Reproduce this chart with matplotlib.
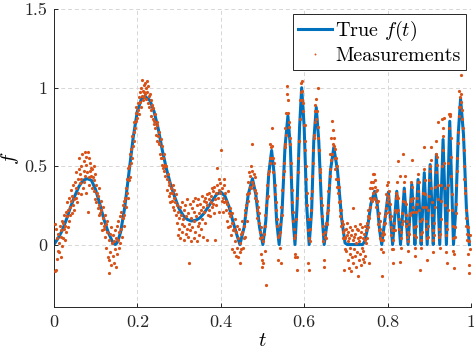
import numpy as np
import matplotlib
matplotlib.use('Agg')
import matplotlib.pyplot as plt

plt.rcParams['font.family'] = 'serif'
plt.rcParams['font.serif'] = ['cmr10']
plt.rcParams['mathtext.fontset'] = 'cm'
plt.rcParams['axes.unicode_minus'] = False

# true signal (t, f)
curve_t = [0.000, 0.010, 0.020, 0.030, 0.040, 0.050, 0.060, 0.070, 0.080, 0.090,
           0.100, 0.110, 0.120, 0.130, 0.140, 0.144, 0.147, 0.151, 0.155, 0.160, 0.170, 0.180,
           0.190, 0.200, 0.210, 0.218, 0.230, 0.240, 0.250, 0.260, 0.270, 0.280,
           0.290, 0.300, 0.310, 0.320, 0.330, 0.340, 0.350, 0.360, 0.370, 0.380,
           0.390, 0.400, 0.410, 0.420, 0.430, 0.440, 0.446,
           0.456, 0.466, 0.476, 0.484, 0.493, 0.501,
           0.508, 0.515, 0.522, 0.528, 0.534, 0.540,
           0.547, 0.554, 0.561, 0.567, 0.572, 0.578,
           0.583, 0.589, 0.594, 0.600, 0.606, 0.612,
           0.618, 0.623, 0.629, 0.635, 0.642, 0.648,
           0.656, 0.663, 0.671, 0.680, 0.690, 0.698, 0.703,
           0.740, 0.745, 0.751, 0.760, 0.769, 0.775, 0.781, 0.786,
           0.794, 0.802, 0.807, 0.812,
           0.817, 0.822, 0.8265, 0.831,
           0.8355, 0.840, 0.8445, 0.849,
           0.8535, 0.858, 0.862, 0.8655,
           0.869, 0.873, 0.877, 0.8805,
           0.884, 0.888, 0.8915, 0.895,
           0.8985, 0.902, 0.906, 0.9095,
           0.913, 0.917, 0.921, 0.925,
           0.929, 0.933, 0.937, 0.941,
           0.945, 0.949, 0.9535, 0.958,
           0.9637, 0.9693, 0.975, 0.982, 0.989, 0.996]
curve_f = [0.00, 0.04, 0.09, 0.16, 0.24, 0.31, 0.37, 0.41, 0.42, 0.41,
           0.35, 0.26, 0.16, 0.08, 0.02, 0.005, 0.00, 0.01, 0.035, 0.08, 0.24, 0.46,
           0.68, 0.85, 0.93, 0.945, 0.92, 0.85, 0.74, 0.60, 0.48, 0.38,
           0.30, 0.23, 0.185, 0.16, 0.15, 0.155, 0.17, 0.20, 0.24, 0.28,
           0.32, 0.335, 0.31, 0.24, 0.14, 0.05, 0.00,
           0.11, 0.32, 0.42, 0.32, 0.11, 0.00,
           0.15, 0.45, 0.60, 0.45, 0.15, 0.00,
           0.21, 0.62, 0.82, 0.62, 0.21, 0.00,
           0.25, 0.75, 1.00, 0.75, 0.25, 0.00,
           0.22, 0.66, 0.875, 0.66, 0.22, 0.00,
           0.16, 0.47, 0.62, 0.47, 0.16, 0.01, 0.00,
           0.00, 0.02, 0.09, 0.26, 0.34, 0.26, 0.09, 0.00,
           0.17, 0.335, 0.17, 0.00,
           0.17, 0.34, 0.17, 0.00,
           0.18, 0.36, 0.18, 0.00,
           0.19, 0.385, 0.19, 0.00,
           0.21, 0.415, 0.21, 0.00,
           0.23, 0.458, 0.23, 0.00,
           0.255, 0.51, 0.255, 0.00,
           0.29, 0.575, 0.29, 0.00,
           0.335, 0.67, 0.335, 0.00,
           0.39, 0.786, 0.39, 0.00,
           0.23, 0.70, 0.93, 0.70, 0.23, 0.00]

meas = np.array([
    (0.002, 0.13), (0.003, -0.17), (0.005, 0.10), (0.006, -0.16), (0.007, 0.04), (0.008, -0.09), (0.010, 0.07), (0.011, -0.04),
    (0.012, 0.01), (0.013, -0.05), (0.015, 0.12), (0.016, -0.08), (0.017, 0.05), (0.018, 0.09), (0.019, -0.01), (0.020, 0.15),
    (0.021, 0.04), (0.023, 0.14), (0.024, 0.10), (0.025, 0.19), (0.026, 0.03), (0.027, 0.12), (0.028, 0.21), (0.029, 0.08),
    (0.031, 0.18), (0.032, 0.27), (0.033, 0.11), (0.035, 0.22), (0.036, 0.15), (0.037, 0.30), (0.038, 0.19), (0.039, 0.24),
    (0.041, 0.28), (0.042, 0.35), (0.043, 0.20), (0.044, 0.31), (0.046, 0.25), (0.047, 0.38), (0.048, 0.29), (0.049, 0.22),
    (0.051, 0.40), (0.052, 0.30), (0.053, 0.46), (0.054, 0.36), (0.056, 0.27), (0.057, 0.42), (0.058, 0.33), (0.059, 0.48),
    (0.061, 0.55), (0.062, 0.39), (0.063, 0.45), (0.064, 0.32), (0.065, 0.50), (0.066, 0.42), (0.068, 0.58), (0.069, 0.36),
    (0.071, 0.47), (0.072, 0.53), (0.073, 0.40), (0.074, 0.59), (0.075, 0.44), (0.076, 0.51), (0.077, 0.33), (0.078, 0.56), (0.079, 0.46),
    (0.081, 0.59), (0.082, 0.21), (0.083, 0.43), (0.084, 0.55), (0.085, 0.38), (0.086, 0.47), (0.087, 0.52), (0.088, 0.49), (0.089, 0.44),
    (0.091, 0.48), (0.092, 0.36), (0.093, 0.43), (0.095, 0.50), (0.096, 0.34), (0.097, 0.41), (0.098, 0.29), (0.099, 0.45),
    (0.101, 0.38), (0.102, 0.27), (0.103, 0.33), (0.105, 0.23), (0.106, 0.31), (0.107, 0.36), (0.108, 0.19), (0.109, 0.25),
    (0.111, 0.20), (0.112, 0.28), (0.113, 0.14), (0.114, 0.22), (0.116, 0.09), (0.117, 0.17), (0.118, 0.24), (0.119, 0.12),
    (0.121, 0.10), (0.122, 0.19), (0.123, 0.05), (0.125, 0.13), (0.126, -0.02), (0.127, 0.08), (0.128, 0.15), (0.129, -0.08),
    (0.131, -0.18), (0.132, 0.03), (0.133, -0.10), (0.134, 0.07), (0.135, -0.05), (0.136, 0.11), (0.137, -0.13), (0.139, 0.01),
    (0.141, -0.07), (0.142, 0.06), (0.143, -0.12), (0.144, 0.02), (0.146, 0.09), (0.147, -0.03), (0.148, -0.14), (0.149, 0.04),
    (0.151, 0.12), (0.152, -0.06), (0.153, 0.03), (0.154, 0.15), (0.156, -0.02), (0.157, 0.08), (0.158, 0.18), (0.159, 0.01),
    (0.161, 0.10), (0.162, 0.21), (0.163, 0.05), (0.165, 0.17), (0.166, 0.25), (0.167, 0.12), (0.168, 0.28), (0.169, 0.19),
    (0.171, 0.30), (0.172, 0.24), (0.173, 0.36), (0.175, 0.33), (0.176, 0.42), (0.177, 0.30), (0.178, 0.49), (0.179, 0.41),
    (0.181, 0.50), (0.182, 0.43), (0.183, 0.58), (0.184, 0.52), (0.186, 0.61), (0.187, 0.55), (0.188, 0.69), (0.189, 0.63),
    (0.191, 0.72), (0.192, 0.66), (0.193, 0.78), (0.195, 0.74), (0.196, 0.84), (0.197, 0.79), (0.198, 0.88), (0.199, 0.81),
    (0.201, 0.90), (0.202, 0.86), (0.203, 0.94), (0.205, 0.83), (0.206, 0.97), (0.207, 0.91), (0.208, 0.88), (0.209, 1.00),
    (0.211, 0.95), (0.212, 1.05), (0.213, 0.92), (0.214, 0.98), (0.215, 1.02), (0.216, 0.94), (0.217, 0.97), (0.218, 1.03), (0.219, 0.96),
    (0.221, 1.00), (0.222, 0.93), (0.223, 1.04), (0.224, 0.97), (0.225, 0.90), (0.226, 1.01), (0.227, 0.95), (0.229, 0.88),
    (0.231, 0.96), (0.232, 0.86), (0.233, 0.92), (0.234, 0.82), (0.236, 0.89), (0.237, 0.80), (0.238, 0.87), (0.239, 0.77),
    (0.241, 0.79), (0.242, 0.83), (0.243, 0.74), (0.245, 0.70), (0.246, 0.78), (0.247, 0.66), (0.248, 0.76), (0.249, 0.69),
    (0.251, 0.65), (0.252, 0.72), (0.253, 0.64), (0.255, 0.58), (0.256, 0.67), (0.257, 0.55), (0.258, 0.63), (0.259, 0.51),
    (0.261, 0.55), (0.262, 0.49), (0.263, 0.58), (0.264, 0.50), (0.265, 0.47), (0.266, 0.51), (0.267, 0.44), (0.269, 0.50),
    (0.271, 0.42), (0.272, 0.35), (0.273, 0.45), (0.275, 0.38), (0.276, 0.31), (0.277, 0.40), (0.278, 0.33), (0.279, 0.27),
    (0.281, 0.36), (0.282, 0.28), (0.283, 0.33), (0.285, 0.24), (0.286, 0.38), (0.287, 0.30), (0.288, 0.22), (0.289, 0.35),
    (0.291, 0.27), (0.292, 0.19), (0.293, 0.32), (0.295, 0.14), (0.296, 0.25), (0.297, 0.06), (0.298, 0.21), (0.299, 0.17),
    (0.301, 0.10), (0.302, 0.24), (0.303, 0.04), (0.305, 0.19), (0.306, 0.13), (0.307, 0.27), (0.308, 0.08), (0.309, 0.16),
    (0.311, 0.22), (0.312, 0.03), (0.313, 0.12), (0.315, 0.25), (0.316, 0.07), (0.317, 0.18), (0.318, 0.29), (0.319, 0.10),
    (0.321, 0.05), (0.322, 0.20), (0.323, 0.13), (0.325, -0.12), (0.326, 0.26), (0.327, 0.09), (0.328, 0.02), (0.329, 0.17),
    (0.331, 0.23), (0.332, 0.11), (0.333, 0.28), (0.335, 0.04), (0.336, 0.15), (0.337, 0.21), (0.338, 0.08), (0.339, 0.30),
    (0.341, 0.18), (0.342, 0.02), (0.343, 0.25), (0.345, 0.12), (0.346, 0.29), (0.347, 0.06), (0.348, 0.20), (0.349, 0.14),
    (0.351, 0.26), (0.352, 0.10), (0.353, 0.22), (0.355, 0.31), (0.356, 0.16), (0.357, 0.24), (0.358, 0.05), (0.359, 0.28),
    (0.361, 0.21), (0.362, 0.30), (0.363, 0.14), (0.365, 0.27), (0.366, 0.03), (0.367, 0.25), (0.368, 0.32), (0.369, 0.19),
    (0.371, 0.29), (0.372, 0.22), (0.373, 0.33), (0.375, 0.18), (0.376, 0.27), (0.377, 0.31), (0.378, 0.24), (0.379, 0.36),
    (0.381, 0.26), (0.382, 0.34), (0.383, 0.20), (0.385, 0.37), (0.386, 0.29), (0.387, 0.03), (0.388, 0.33), (0.389, 0.25),
    (0.391, 0.38), (0.392, 0.49), (0.393, 0.30), (0.395, 0.35), (0.396, 0.42), (0.397, 0.21), (0.398, 0.33), (0.399, 0.39),
    (0.401, 0.60), (0.402, 0.28), (0.403, 0.36), (0.405, 0.21), (0.406, 0.30), (0.407, 0.38), (0.408, 0.42), (0.409, 0.27),
    (0.411, 0.33), (0.412, 0.22), (0.413, 0.28), (0.415, 0.15), (0.416, 0.26), (0.417, 0.34), (0.418, 0.11), (0.419, 0.20),
    (0.421, 0.23), (0.422, 0.12), (0.423, 0.18), (0.425, 0.06), (0.426, 0.20), (0.427, -0.03), (0.428, 0.14), (0.429, 0.09),
    (0.431, 0.10), (0.432, -0.05), (0.433, 0.16), (0.435, 0.02), (0.436, 0.08), (0.437, -0.07), (0.438, 0.12), (0.439, -0.02),
    (0.441, 0.04), (0.442, -0.08), (0.443, 0.10), (0.445, -0.12), (0.446, 0.01), (0.447, -0.05), (0.448, 0.07), (0.449, -0.03),
    (0.451, 0.08), (0.452, 0.15), (0.453, -0.02), (0.455, 0.12), (0.456, 0.04), (0.457, 0.19), (0.458, 0.05), (0.459, 0.22),
    (0.461, 0.25), (0.462, 0.15), (0.463, 0.32), (0.465, 0.28), (0.466, 0.40), (0.467, 0.33), (0.468, 0.46), (0.469, 0.37),
    (0.471, 0.44), (0.472, 0.36), (0.473, 0.50), (0.474, 0.64), (0.475, 0.40), (0.476, 0.47), (0.477, 0.38), (0.479, 0.45),
    (0.481, 0.35), (0.482, 0.43), (0.483, 0.30), (0.485, 0.33), (0.486, 0.22), (0.487, 0.28), (0.488, 0.17), (0.489, 0.24),
    (0.491, 0.14), (0.492, 0.20), (0.493, 0.08), (0.495, 0.04), (0.496, 0.11), (0.497, -0.06), (0.498, 0.05), (0.499, -0.10),
    (0.500, -0.14), (0.501, 0.02), (0.502, -0.12), (0.503, 0.07), (0.505, 0.12), (0.506, -0.04), (0.507, 0.19), (0.508, -0.26), (0.509, 0.25),
    (0.511, 0.30), (0.512, 0.38), (0.513, 0.31), (0.514, 0.45), (0.516, 0.47), (0.517, 0.55), (0.518, 0.52), (0.519, 0.64),
    (0.521, 0.62), (0.522, 0.74), (0.523, 0.55), (0.524, 0.63), (0.525, 0.55), (0.526, 0.46), (0.527, 0.52), (0.529, 0.38),
    (0.531, 0.32), (0.532, 0.22), (0.533, 0.27), (0.535, 0.12), (0.536, 0.16), (0.537, 0.05), (0.538, -0.10), (0.539, 0.06),
    (0.541, -0.02), (0.542, 0.08), (0.543, 0.13), (0.544, -0.12), (0.545, 0.24), (0.546, 0.19), (0.547, 0.35), (0.549, 0.43),
    (0.551, 0.52), (0.552, 0.47), (0.553, 0.64), (0.554, 0.62), (0.555, 0.74), (0.556, 0.70), (0.557, 0.84), (0.558, 0.96), (0.559, 1.01),
    (0.561, 0.84), (0.562, 0.92), (0.563, 0.75), (0.564, 0.78), (0.565, 0.64), (0.566, 0.68), (0.568, 0.52), (0.569, 0.43),
    (0.571, 0.35), (0.572, 0.27), (0.573, 0.21), (0.574, 0.15), (0.575, 0.10), (0.576, 0.04), (0.577, -0.06), (0.578, -0.08), (0.579, 0.06),
    (0.581, 0.16), (0.582, -0.08), (0.583, 0.30), (0.584, -0.16), (0.585, 0.46), (0.586, 0.55), (0.587, 0.66), (0.588, 0.66), (0.589, 0.80),
    (0.591, 0.92), (0.592, 1.03), (0.593, 0.97), (0.594, 1.04), (0.595, 0.92), (0.596, 0.98), (0.597, 0.85), (0.598, 0.90), (0.599, 0.76),
    (0.601, 0.76), (0.602, 0.66), (0.603, 0.60), (0.604, 0.50), (0.605, 0.42), (0.606, 0.33), (0.607, 0.25), (0.608, 0.16), (0.609, 0.09),
    (0.610, -0.12), (0.611, 0.04), (0.612, -0.16), (0.613, 0.02), (0.614, 0.10), (0.615, 0.16), (0.616, 0.22), (0.617, 0.30), (0.618, 0.34), (0.619, 0.44),
    (0.621, 0.52), (0.622, 0.60), (0.623, 0.68), (0.624, 0.70), (0.625, 0.78), (0.626, 0.89), (0.627, 0.85), (0.628, 0.93), (0.629, 0.80),
    (0.631, 0.85), (0.632, 0.75), (0.633, 1.00), (0.634, 0.68), (0.635, 0.60), (0.636, 0.60), (0.637, 0.48), (0.638, 0.41), (0.639, 0.46),
    (0.641, 0.30), (0.642, 0.25), (0.643, 0.18), (0.644, 0.12), (0.645, 0.07), (0.646, 0.02), (0.647, -0.10), (0.648, -0.14), (0.649, 0.05),
    (0.651, 0.08), (0.652, 0.04), (0.653, 0.14), (0.654, 0.20), (0.655, 0.13), (0.656, 0.25), (0.657, 0.22), (0.658, 0.34), (0.659, 0.38),
    (0.661, 0.48), (0.662, 0.44), (0.663, 0.58), (0.664, 0.54), (0.665, 0.68), (0.666, 0.58), (0.667, 0.79), (0.668, 0.64), (0.669, 0.73),
    (0.671, 0.63), (0.672, 0.68), (0.673, 0.55), (0.674, 0.61), (0.675, 0.48), (0.676, 0.55), (0.677, 0.42), (0.678, 0.50), (0.679, 0.37),
    (0.681, 0.42), (0.682, 0.33), (0.683, 0.37), (0.684, 0.27), (0.685, 0.22), (0.686, 0.28), (0.687, 0.18), (0.688, 0.22), (0.689, 0.12),
    (0.691, 0.15), (0.692, 0.08), (0.693, 0.13), (0.694, 0.04), (0.695, 0.09), (0.696, -0.16), (0.697, 0.05), (0.698, -0.03), (0.699, 0.04),
    (0.700, 0.10), (0.701, -0.04), (0.702, 0.14), (0.703, 0.06), (0.704, -0.10), (0.705, 0.02), (0.706, 0.08), (0.707, -0.15), (0.708, 0.04), (0.709, -0.06),
    (0.710, 0.11), (0.711, -0.02), (0.712, 0.06), (0.713, -0.17), (0.714, 0.09), (0.715, -0.08), (0.716, 0.03), (0.717, 0.235), (0.718, -0.12), (0.719, 0.05),
    (0.720, -0.03), (0.721, 0.12), (0.722, -0.07), (0.723, 0.07), (0.724, -0.14), (0.725, 0.01), (0.726, 0.10), (0.727, -0.05), (0.728, 0.04), (0.729, -0.20),
    (0.730, 0.09), (0.731, -0.10), (0.732, 0.02), (0.733, 0.13), (0.734, -0.06), (0.735, 0.05), (0.736, -0.13), (0.737, 0.08), (0.738, -0.02), (0.739, 0.11),
    (0.740, -0.09), (0.741, 0.04), (0.742, -0.04), (0.743, 0.07), (0.744, -0.11), (0.745, 0.03), (0.746, 0.12), (0.747, -0.07), (0.748, 0.09), (0.749, 0.01),
    (0.750, 0.14), (0.751, 0.04), (0.752, 0.18), (0.753, 0.11), (0.754, 0.22), (0.755, -0.12), (0.756, 0.17), (0.757, 0.30), (0.758, 0.24), (0.759, 0.36),
    (0.760, 0.29), (0.761, 0.40), (0.762, 0.28), (0.763, 0.36), (0.764, 0.45), (0.765, 0.33), (0.766, 0.40), (0.767, 0.30), (0.768, 0.45), (0.769, 0.37),
    (0.770, 0.29), (0.771, 0.41), (0.772, 0.34), (0.773, 0.24), (0.774, 0.35), (0.775, 0.27), (0.776, 0.18), (0.777, 0.28), (0.778, 0.13), (0.779, 0.20),
    (0.780, 0.09), (0.781, 0.15), (0.782, 0.04), (0.783, 0.10), (0.784, -0.03), (0.785, 0.03), (0.786, -0.20), (0.787, 0.06),
    (0.788, 0.03), (0.789, -0.05), (0.790, 0.08), (0.791, 0.13), (0.792, 0.07), (0.793, 0.18), (0.794, 0.14), (0.795, 0.23), (0.796, 0.20), (0.797, 0.32), (0.798, 0.27), (0.799, 0.38),
    (0.800, 0.31), (0.801, 0.40), (0.802, 0.29), (0.803, 0.34), (0.804, 0.21), (0.805, 0.26), (0.806, 0.16), (0.807, 0.11), (0.808, 0.18), (0.809, 0.06), (0.810, 0.09), (0.811, -0.03), (0.812, -0.12), (0.813, 0.03),
    (0.814, -0.03), (0.815, 0.09), (0.816, 0.14), (0.817, 0.09), (0.818, 0.22), (0.819, 0.21), (0.820, 0.33), (0.821, 0.30), (0.822, 0.40), (0.823, 0.31), (0.824, 0.22), (0.825, 0.30), (0.826, 0.53), (0.827, 0.16), (0.828, 0.10), (0.829, 0.44), (0.830, -0.11), (0.831, 0.04),
    (0.832, -0.02), (0.833, 0.08), (0.834, 0.13), (0.835, 0.20), (0.836, 0.15), (0.837, 0.28), (0.838, 0.58), (0.839, 0.40), (0.840, 0.34), (0.841, 0.44), (0.842, 0.27), (0.843, 0.19), (0.844, 0.26), (0.845, 0.12), (0.846, 0.15), (0.847, 0.05), (0.848, 0.08), (0.849, -0.04),
    (0.850, 0.02), (0.851, 0.07), (0.852, 0.13), (0.853, 0.20), (0.854, 0.19), (0.855, 0.29), (0.856, 0.28), (0.857, 0.40), (0.858, 0.54), (0.859, 0.37), (0.860, 0.30), (0.861, 0.21), (0.862, 0.24), (0.863, 0.11), (0.864, 0.06), (0.865, -0.02), (0.866, -0.07),
    (0.867, 0.05), (0.868, 0.12), (0.869, 0.21), (0.870, 0.30), (0.871, 0.26), (0.872, 0.45), (0.873, 0.40), (0.874, 0.34), (0.875, 0.40), (0.876, 0.22), (0.877, 0.15), (0.878, -0.16), (0.879, 0.07), (0.880, 0.03),
    (0.881, -0.02), (0.882, 0.08), (0.883, 0.16), (0.884, 0.24), (0.885, 0.33), (0.886, 0.33), (0.887, 0.48), (0.888, 0.62), (0.889, 0.41), (0.890, 0.32), (0.891, 0.24), (0.892, 0.15), (0.893, 0.10), (0.894, -0.10), (0.895, 0.04),
    (0.896, 0.05), (0.897, 0.12), (0.898, 0.22), (0.899, 0.31), (0.900, 0.41), (0.901, 0.50), (0.902, 0.47), (0.903, 0.54), (0.904, 0.62), (0.905, 0.36), (0.906, 0.27), (0.907, 0.19), (0.908, 0.09), (0.909, 0.03), (0.910, -0.05),
    (0.911, 0.06), (0.912, 0.14), (0.913, 0.24), (0.914, 0.37), (0.915, 0.46), (0.916, 0.66), (0.917, 0.58), (0.918, 0.51), (0.919, 0.56), (0.920, 0.38), (0.921, 0.29), (0.922, 0.78), (0.923, 0.10), (0.924, 0.05), (0.925, -0.02),
    (0.926, 0.07), (0.927, 0.16), (0.928, 0.28), (0.929, 0.38), (0.930, 0.50), (0.931, 0.80), (0.932, 0.74), (0.933, 0.69), (0.934, 0.60), (0.935, 0.52), (0.936, 0.81), (0.937, 0.36), (0.938, 0.25), (0.939, 0.14), (0.940, 0.06), (0.941, -0.05),
    (0.942, -0.12), (0.943, 0.10), (0.944, 0.22), (0.945, 0.38), (0.946, 0.52), (0.947, 0.83), (0.948, 0.74), (0.949, 0.82), (0.950, 0.83), (0.951, 0.68), (0.952, 0.56), (0.953, 0.44), (0.954, 0.32), (0.955, 0.22), (0.956, 0.12), (0.957, 0.04), (0.958, -0.04),
    (0.959, -0.06), (0.960, -0.15), (0.961, 0.05), (0.962, 0.11), (0.963, 0.20), (0.964, 0.26), (0.965, 0.38), (0.966, 0.47), (0.967, 0.55), (0.968, 0.65), (0.969, 0.72), (0.970, 0.82),
    (0.971, 0.88), (0.972, 0.98), (0.973, 0.94), (0.974, 0.88), (0.975, 0.96), (0.976, 1.08), (0.977, 0.91), (0.978, 0.86), (0.979, 0.80), (0.980, 0.74), (0.981, 0.67), (0.982, 0.60),
    (0.983, 0.50), (0.984, 0.42), (0.985, 0.36), (0.986, 0.33), (0.987, 0.22), (0.988, 0.17), (0.989, 0.12), (0.990, 0.07), (0.991, 0.03), (0.992, 0.11), (0.993, -0.06), (0.994, -0.13),
    (0.995, 0.02), (0.996, -0.18), (0.997, -0.03), (0.998, 0.06),
])
meas_t = meas[:, 0]
meas_f = meas[:, 1]

x_ticks = [0, 0.2, 0.4, 0.6, 0.8, 1]
x_labels = ['0', '0.2', '0.4', '0.6', '0.8', '1']
y_ticks = [0, 0.5, 1, 1.5]
y_labels = ['0', '0.5', '1', '1.5']

fig = plt.figure(figsize=(4.74, 3.55), dpi=100)
ax = fig.add_axes([0.1137, 0.1344, 0.88, 0.8394])

ax.plot(curve_t, curve_f, color='#0072BD', lw=2.2, solid_joinstyle='round',
        label='True $f(t)$', zorder=2)
ax.plot(meas_t, meas_f, 'o', color='#D95319', ms=2.3, mec='none',
        label='Measurements', zorder=3)

ax.set_xlim(0, 1)
ax.set_ylim(-0.4, 1.5)
ax.set_xticks(x_ticks)
ax.set_xticklabels(x_labels)
ax.set_yticks(y_ticks)
ax.set_yticklabels(y_labels)
ax.tick_params(direction='in', length=3, width=0.7, labelsize=13, colors='#262626', pad=5)
ax.grid(True, ls=(0, (4, 3)), color='#d6d6d6', lw=0.7)
ax.set_axisbelow(True)
for s in ['top', 'right']:
    ax.spines[s].set_visible(False)
for s in ['left', 'bottom']:
    ax.spines[s].set_color('#262626')
    ax.spines[s].set_linewidth(0.7)

ax.set_xlabel('$t$', fontsize=15, labelpad=2)
ax.set_ylabel('$f$', fontsize=15, labelpad=2)

leg = ax.legend(loc='upper right', bbox_to_anchor=(0.987, 0.984), borderaxespad=0,
                fontsize=14.5, fancybox=False, framealpha=1,
                edgecolor='#262626', borderpad=0.25, labelspacing=0.2,
                handlelength=1.7, handletextpad=0.15, markerscale=0.6)
leg.get_frame().set_linewidth(0.7)

fig.savefig('out.png', dpi=100)
